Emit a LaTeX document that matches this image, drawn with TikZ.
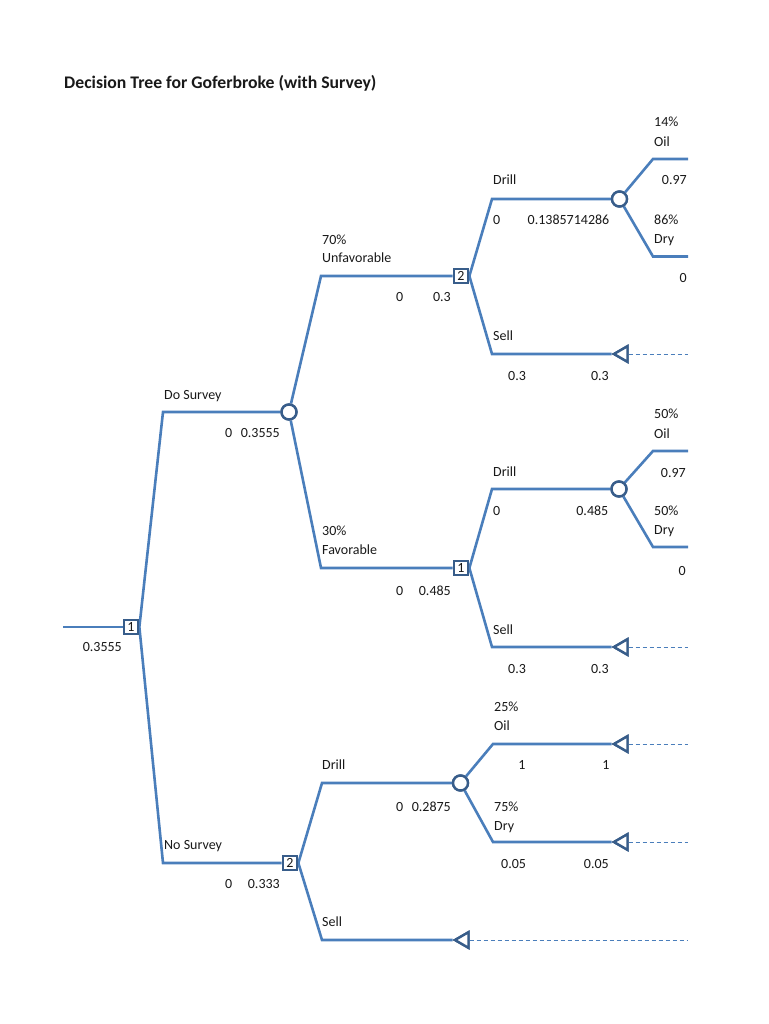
\documentclass[tikz,border=0pt]{standalone}
\usepackage{fontspec}
\setmainfont{Carlito}
\usetikzlibrary{shapes.geometric}
\definecolor{branch}{RGB}{74,126,187}
\definecolor{nodeln}{RGB}{56,93,138}
\definecolor{txt}{RGB}{25,25,25}
\newcommand{\lblfont}{\fontsize{14}{16}\selectfont}
\newcommand{\ttlfont}{\fontsize{17.7}{22}\selectfont\bfseries}
\begin{document}
\begin{tikzpicture}[x=1pt,y=-1pt,
  branchln/.style={draw=branch, line width=2.6pt},
  dec/.style={rectangle, draw=nodeln, fill=white, line width=2.2pt, minimum size=14.5pt, inner sep=0pt, text=txt, font=\lblfont},
  chance/.style={circle, draw=nodeln, fill=white, line width=2.4pt, minimum size=15pt, inner sep=0pt},
  term/.style={regular polygon, regular polygon sides=3, shape border rotate=90, draw=nodeln, fill=white, line width=2.4pt, minimum size=18pt, inner sep=0pt},
  stub/.style={draw=branch, line width=1pt, dash pattern=on 4pt off 3pt},
  lbl/.style={anchor=base west, inner sep=0pt, text=txt, font=\lblfont},
  lblr/.style={anchor=base east, inner sep=0pt, text=txt, font=\lblfont},
  lblc/.style={anchor=base, inner sep=0pt, text=txt, font=\lblfont}]
\useasboundingbox (0,0) rectangle (768,1024);
\fill[white] (0,0) rectangle (768,1024);

% title
\node[anchor=base west, inner sep=0pt, text=txt, font=\ttlfont] (title) at (64,89) {Decision Tree for Goferbroke (with Survey)};

% decision / chance / terminal nodes
\node[dec] (d1) at (131,627) {1};
\node[chance] (c1) at (289,412) {};
\node[dec] (d2) at (290,863) {2};
\node[dec] (d3) at (461,276) {2};
\node[dec] (d4) at (461,568) {1};
\node[chance] (c2) at (619.5,199) {};
\node[chance] (c3) at (619,489) {};
\node[chance] (c4) at (460.5,783) {};
\node[term] (t1) at (623,354) {};
\node[term] (t2) at (623,647) {};
\node[term] (t3) at (623,744) {};
\node[term] (t4) at (623,842) {};
\node[term] (t5) at (464,940) {};

% bend points and free ends
\coordinate (root) at (63,627);
\coordinate (b1u) at (163,412);
\coordinate (b1d) at (163,863);
\coordinate (bc1u) at (321,276);
\coordinate (bc1d) at (321,568);
\coordinate (b3u) at (492,199);
\coordinate (b3d) at (492,354);
\coordinate (b4u) at (492,489);
\coordinate (b4d) at (492,647);
\coordinate (b2u) at (322,783);
\coordinate (b2d) at (322,940);
\coordinate (bc2u) at (653,159);
\coordinate (e2u) at (688,159);
\coordinate (bc2d) at (653,256.5);
\coordinate (e2d) at (688,256.5);
\coordinate (bc3u) at (653,451);
\coordinate (e3u) at (688,451);
\coordinate (bc3d) at (653,547);
\coordinate (e3d) at (688,547);
\coordinate (bc4u) at (493,744);
\coordinate (bc4d) at (493,842);
\coordinate (s1) at (688,354);
\coordinate (s2) at (688,647);
\coordinate (s3) at (688,744);
\coordinate (s4) at (688,842);
\coordinate (s5) at (688,940);

% branches
\draw[branchln] (root) -- (d1.west);
\draw[branchln] (d1.east) -- (b1u) -- (c1.west);
\draw[branchln] (d1.east) -- (b1d) -- (d2.west);
\draw[branchln] (c1) -- (bc1u) -- (d3.west);
\draw[branchln] (c1) -- (bc1d) -- (d4.west);
\draw[branchln] (d3.east) -- (b3u) -- (c2.west);
\draw[branchln] (d3.east) -- (b3d) -- (t1.corner 1);
\draw[branchln] (c2) -- (bc2u) -- (e2u);
\draw[branchln] (c2) -- (bc2d) -- (e2d);
\draw[branchln] (d4.east) -- (b4u) -- (c3.west);
\draw[branchln] (d4.east) -- (b4d) -- (t2.corner 1);
\draw[branchln] (c3) -- (bc3u) -- (e3u);
\draw[branchln] (c3) -- (bc3d) -- (e3d);
\draw[branchln] (d2.east) -- (b2u) -- (c4.west);
\draw[branchln] (d2.east) -- (b2d) -- (t5.corner 1);
\draw[branchln] (c4) -- (bc4u) -- (t3.corner 1);
\draw[branchln] (c4) -- (bc4d) -- (t4.corner 1);

% dashed stubs
\draw[stub] (t1.side 2) -- (s1);
\draw[stub] (t2.side 2) -- (s2);
\draw[stub] (t3.side 2) -- (s3);
\draw[stub] (t4.side 2) -- (s4);
\draw[stub] (t5.side 2) -- (s5);

% redraw nodes on top
\node[dec] at (d1) {1};
\node[dec] at (d2) {2};
\node[dec] at (d3) {2};
\node[dec] at (d4) {1};
\node[chance] at (c1) {};
\node[chance] at (c2) {};
\node[chance] at (c3) {};
\node[chance] at (c4) {};
\node[term] at (t1) {};
\node[term] at (t2) {};
\node[term] at (t3) {};
\node[term] at (t4) {};
\node[term] at (t5) {};

% labels
\node[lblr] (v0) at (122,651.5) {0.3555};
\node[lbl] (lds) at (164,399.5) {Do Survey};
\node[lbl] (lds0) at (225,437.5) {0};
\node[lblr] (lds1) at (280,437.5) {0.3555};
\node[lbl] (lns) at (164,849.5) {No Survey};
\node[lbl] (lns0) at (225,888.5) {0};
\node[lblr] (lns1) at (280,888.5) {0.333};

\node[lbl] (lu1) at (322,244.5) {70\%};
\node[lbl] (lu2) at (322,262.5) {Unfavorable};
\node[lbl] (lu3) at (396,301.5) {0};
\node[lblr] (lu4) at (451,301.5) {0.3};
\node[lbl] (lf1) at (322,535) {30\%};
\node[lbl] (lf2) at (322,554.5) {Favorable};
\node[lbl] (lf3) at (396,595) {0};
\node[lblr] (lf4) at (451,595) {0.485};

\node[lbl] (a1) at (493,185) {Drill};
\node[lbl] (a2) at (493,224.5) {0};
\node[lblr] (a3) at (609.5,224.5) {0.1385714286};
\node[lbl] (a4) at (654,127) {14\%};
\node[lbl] (a5) at (654,147) {Oil};
\node[lblr] (a6) at (687,184.5) {0.97};
\node[lbl] (a7) at (654,224.5) {86\%};
\node[lbl] (a8) at (654,243.5) {Dry};
\node[lblr] (a9) at (687,282) {0};
\node[lbl] (a10) at (493,340.5) {Sell};
\node[lbl] (a11) at (508,380.5) {0.3};
\node[lblr] (a12) at (609,380.5) {0.3};

\node[lbl] (f1) at (493,476) {Drill};
\node[lbl] (f2) at (493,515) {0};
\node[lblr] (f3) at (608.5,515) {0.485};
\node[lbl] (f4) at (654,418.5) {50\%};
\node[lbl] (f5) at (654,438) {Oil};
\node[lblr] (f6) at (686,477) {0.97};
\node[lbl] (f7) at (654,515) {50\%};
\node[lbl] (f8) at (654,534.5) {Dry};
\node[lblr] (f9) at (686,575) {0};
\node[lbl] (f10) at (493,634) {Sell};
\node[lbl] (f11) at (508,673) {0.3};
\node[lblr] (f12) at (609,673) {0.3};

\node[lbl] (n1) at (322,769.5) {Drill};
\node[lbl] (n2) at (396,811) {0};
\node[lblr] (n3) at (451,811) {0.2875};
\node[lbl] (n4) at (494,711) {25\%};
\node[lbl] (n5) at (494,730.5) {Oil};
\node[lblc] (n6) at (522,769.5) {1};
\node[lblc] (n7) at (606,769.5) {1};
\node[lbl] (n8) at (494,811) {75\%};
\node[lbl] (n9) at (494,830.5) {Dry};
\node[lbl] (n10) at (501,868.5) {0.05};
\node[lblr] (n11) at (609,868.5) {0.05};
\node[lbl] (n12) at (322,926) {Sell};
\end{tikzpicture}
\end{document}
